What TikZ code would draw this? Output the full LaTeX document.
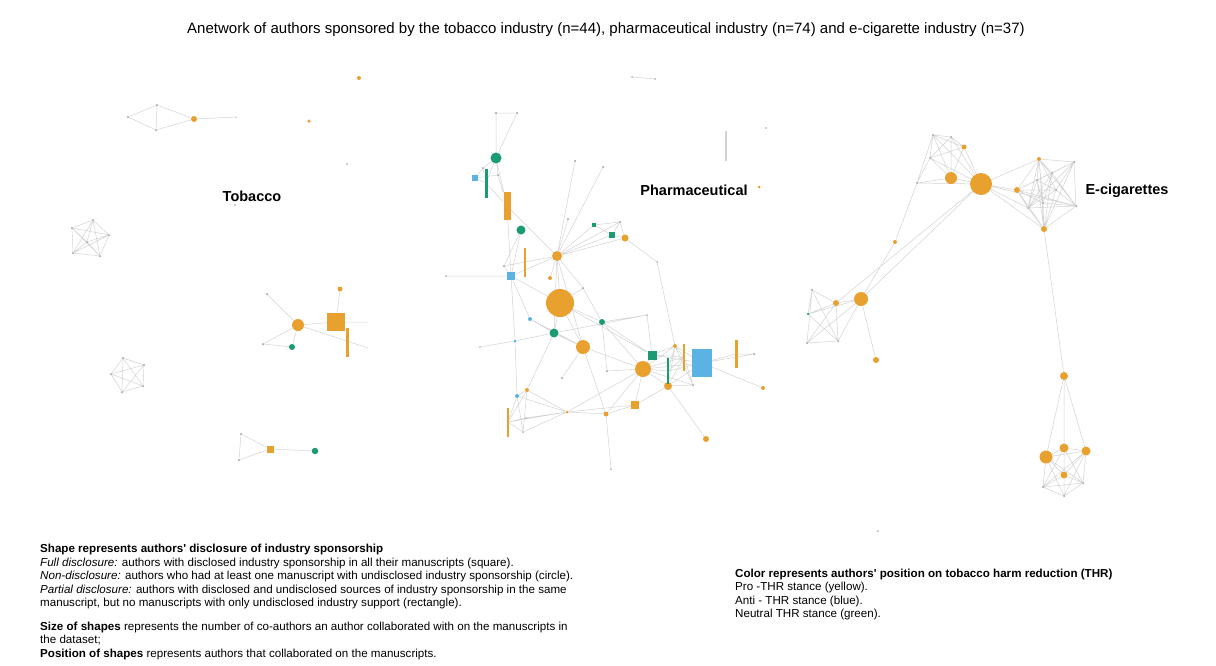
\documentclass[tikz,border=0pt]{standalone}
\usepackage{fontspec}
\setmainfont{Liberation Sans}
\usetikzlibrary{backgrounds}
\definecolor{thryellow}{HTML}{E8A02F}
\definecolor{thrblue}{HTML}{5BB3E4}
\definecolor{thrgreen}{HTML}{1A9B73}
\definecolor{dotgray}{HTML}{B9AE9F}
\definecolor{edgegray}{HTML}{D3D3D3}

\begin{document}
\begin{tikzpicture}[x=1pt, y=-1pt,
  nd/.style={circle, inner sep=0pt, minimum size=#1},
  fd/.style={rectangle, inner sep=0pt, minimum size=#1},
  pd/.style={rectangle, inner sep=0pt, minimum width=2.5pt, minimum height=#1},
  pro/.style={fill=thryellow},
  anti/.style={fill=thrblue},
  neut/.style={fill=thrgreen},
  minor/.style={nd=2.5pt, fill=dotgray},
  link/.style={draw=edgegray, line width=0.5pt},
  group/.style={font=\fontsize{14.5}{16}\selectfont\bfseries},
  legend/.style={anchor=north west, align=left, inner sep=0pt, font=\fontsize{11.6}{13.5}\selectfont}
]
\useasboundingbox (0,0) rectangle (1216,665);

\node[font=\fontsize{15}{17}\selectfont] (title) at (606,30) {Anetwork of authors sponsored by the tobacco industry (n=44), pharmaceutical industry (n=74) and e-cigarette industry (n=37)};

% tobacco
\node[group] (tobacco) at (252,196) {Tobacco};
\node[minor] (ta1) at (128,117) {};
\node[minor] (ta2) at (157,105) {};
\node[minor] (ta3) at (156,130) {};
\node[nd=6pt, pro] (ta4) at (194,119) {};
\node[minor, nd=1.5pt] (ta5) at (236,117) {};
\node[nd=4pt, pro] (t6) at (359,78) {};
\node[nd=3.5pt, pro] (t7) at (309,121) {};
\node[minor, nd=2pt] (t8) at (347,164) {};
\node[minor, nd=2pt] (t9) at (235,205) {};
\node[minor] (tp1) at (72,228) {};
\node[minor] (tp2) at (93,220) {};
\node[minor] (tp3) at (109,235) {};
\node[minor] (tp4) at (100,256) {};
\node[minor] (tp5) at (73,253) {};
\node[minor] (tp6) at (87,242) {};
\node[minor] (tq1) at (123,358) {};
\node[minor] (tq2) at (144,365) {};
\node[minor] (tq3) at (143,386) {};
\node[minor] (tq4) at (122,392) {};
\node[minor] (tq5) at (111,374) {};
\node[minor] (tm1) at (267,294) {};
\node[nd=12pt, pro] (tm2) at (298,325) {};
\node[fd=18pt, pro] (tm3) at (336,322) {};
\node[nd=5pt, pro] (tm4) at (340,289) {};
\node[pd=29pt, minimum width=3pt, pro] (tm5) at (347,342) {};
\node[nd=6pt, neut] (tm6) at (292,347) {};
\node[minor] (tm7) at (263,344) {};
\coordinate (tm8) at (368,322);
\coordinate (tm9) at (368,348);
\node[minor] (tb1) at (241,434) {};
\node[minor] (tb2) at (239,460) {};
\node[fd=7pt, pro] (tb3) at (270,449) {};
\node[nd=6.5pt, neut] (tb4) at (315,451) {};

% pharmaceutical
\node[group] (pharma) at (694,190) {Pharmaceutical};
\node[minor] (pa) at (496,113) {};
\node[minor] (pb) at (517,113) {};
\node[nd=11pt, neut] (pc) at (496,158) {};
\node[minor] (pd) at (483,168) {};
\node[fd=5.5pt, anti] (pe) at (475,178) {};
\node[pd=29pt, minimum width=3pt, neut] (pf) at (486,183) {};
\node[minor] (pg) at (498,175) {};
\node[pd=28pt, minimum width=7pt, pro] (ph) at (507,206) {};
\node[nd=9pt, neut] (pi) at (521,230) {};
\node[minor] (pj) at (575,161) {};
\node[minor] (pk) at (603,167) {};
\node[minor] (pl) at (568,219) {};
\node[fd=3.5pt, neut] (pm) at (594,225) {};
\node[minor] (pn) at (620,222) {};
\node[fd=6.5pt, neut] (po) at (612,235) {};
\node[nd=7pt, pro] (pp) at (625,238) {};
\node[nd=10pt, pro] (pq) at (557,256) {};
\node[pd=29pt, pro] (pr) at (525,262) {};
\node[minor] (ps) at (504,266) {};
\node[fd=8.5pt, anti] (pt) at (511,276) {};
\node[nd=4pt, pro] (pu) at (550,278) {};
\node[minor, nd=2pt] (pv) at (446,276) {};
\node[nd=28pt, pro] (pw) at (560,303) {};
\node[nd=4pt, anti] (px) at (530,319) {};
\node[nd=9pt, neut] (py) at (554,333) {};
\node[nd=6pt, neut] (pz) at (602,322) {};
\node[minor] (qa) at (583,288) {};
\node[nd=3pt, anti] (qb) at (515,341) {};
\node[minor, nd=2pt] (qc) at (480,347) {};
\node[nd=14pt, pro] (qd) at (583,347) {};
\node[minor] (qe) at (562,378) {};
\node[minor] (qf) at (607,371) {};
\node[minor, nd=2pt] (qg) at (647,315) {};
\node[fd=9pt, neut] (qh) at (652,355) {};
\node[nd=16pt, pro] (qi) at (643,369) {};
\node[nd=8pt, pro] (qj) at (668,386) {};
\node[nd=4pt, anti] (qk) at (517,396) {};
\node[nd=4pt, pro] (ql) at (527,390) {};
\node[nd=4pt, pro] (qm) at (675,346) {};
\node[pd=27pt, minimum width=2pt, pro] (qn) at (684,357) {};
\node[pd=26pt, minimum width=2pt, neut] (qo) at (668,371) {};
\node[pd=28pt, minimum width=20pt, anti] (qp) at (702,363) {};
\node[minor] (qq) at (693,385) {};
\node[pd=28pt, minimum width=3pt, pro] (qr) at (736,354) {};
\node[minor] (qs) at (754,354) {};
\node[nd=4pt, pro] (qt) at (763,388) {};
\node[fd=8pt, pro] (qu) at (635,405) {};
\node[nd=5pt, pro] (qv) at (606,414) {};
\node[nd=6pt, pro] (qw) at (706,439) {};
\node[pd=29pt, minimum width=2pt, pro] (qx) at (508,422) {};
\node[minor, nd=2pt] (qy) at (526,418) {};
\node[minor, nd=2pt] (qz) at (523,432) {};
\node[nd=3pt, pro] (ra) at (567,412) {};
\node[minor, nd=2pt] (rb) at (611,469) {};
\node[minor, nd=2pt] (rc) at (657,262) {};
\node[pd=30pt, minimum width=2pt, fill=gray!35] (rd) at (726,146) {};
\node[minor, nd=2pt] (re) at (632,77) {};
\node[minor, nd=2pt] (rf) at (655,79) {};
\node[nd=3pt, pro] (rg) at (759,187) {};
\node[minor, nd=2pt] (rh) at (766,128) {};

% e-cigarettes
\node[group] (ecig) at (1127,191) {E-cigarettes};
\node[minor] (ea) at (933,135) {};
\node[minor] (eb) at (951,137) {};
\node[nd=5pt, pro] (ec) at (964,147) {};
\node[minor] (ed) at (930,158) {};
\node[minor] (ee) at (917,183) {};
\node[nd=12pt, pro] (ef) at (951,178) {};
\node[nd=22pt, pro] (eg) at (981,184) {};
\node[nd=4pt, pro] (eh) at (1039,159) {};
\node[minor] (ei) at (1074,162) {};
\node[nd=6pt, pro] (ej) at (1017,190) {};
\node[minor] (ek) at (1076,206) {};
\node[nd=6pt, pro] (el) at (1044,229) {};
\node[minor] (em) at (1052,173) {};
\node[minor] (en) at (1028,208) {};
\node[minor] (eo) at (1056,190) {};
\node[minor] (ep) at (1037,180) {};
\node[minor] (eq) at (1043,203) {};
\node[nd=4pt, pro] (er) at (895,242) {};
\node[nd=14pt, pro] (es) at (861,299) {};
\node[nd=6pt, pro] (et) at (836,303) {};
\node[minor] (eu) at (812,290) {};
\node[nd=2.5pt, neut] (ev) at (808,314) {};
\node[minor] (ew) at (807,343) {};
\node[minor] (ex) at (838,341) {};
\node[nd=6pt, pro] (ey) at (876,360) {};
\node[nd=8pt, pro] (ez) at (1064,376) {};
\node[nd=13pt, pro] (fa) at (1046,457) {};
\node[nd=9pt, pro] (fb) at (1064,448) {};
\node[nd=9pt, pro] (fc) at (1086,451) {};
\node[nd=7pt, pro] (fd) at (1064,475) {};
\node[minor] (fe) at (1043,487) {};
\node[minor] (ff) at (1064,496) {};
\node[minor] (fg) at (1083,483) {};
\node[minor, nd=2pt] (fh) at (878,531) {};

\begin{scope}[on background layer]
\draw[link] (ta1)--(ta2) (ta1)--(ta3) (ta2)--(ta3) (ta2)--(ta4) (ta3)--(ta4) (ta4)--(ta5)
  (tp1)--(tp2) (tp1)--(tp3) (tp1)--(tp4) (tp1)--(tp5) (tp1)--(tp6) (tp2)--(tp3) (tp2)--(tp4)
  (tp2)--(tp5) (tp2)--(tp6) (tp3)--(tp4) (tp3)--(tp5) (tp3)--(tp6) (tp4)--(tp5) (tp4)--(tp6) (tp5)--(tp6)
  (tq1)--(tq2) (tq1)--(tq3) (tq1)--(tq4) (tq1)--(tq5) (tq2)--(tq3) (tq2)--(tq4) (tq2)--(tq5)
  (tq3)--(tq4) (tq3)--(tq5) (tq4)--(tq5)
  (tm1)--(tm2) (tm2)--(tm3) (tm3)--(tm4) (tm2)--(tm6) (tm7)--(tm2) (tm7)--(tm6) (tm3)--(tm8) (tm2)--(tm9)
  (tb1)--(tb2) (tb1)--(tb3) (tb2)--(tb3) (tb3)--(tb4);
\draw[link] (pa)--(pb) (pa)--(pc) (pb)--(pc) (pc)--(pd) (pc)--(pf) (pc)--(pg) (pd)--(pe) (pd)--(pf)
  (pe)--(pf) (pe)--(pg) (pg)--(ph) (pc)--(ph) (pf)--(ph) (ph)--(pq) (ph)--(pt) (pi)--(pt) (pi)--(ps)
  (pj)--(pq) (pk)--(pq) (pl)--(pq) (pm)--(pq) (pn)--(pq) (po)--(pq) (pp)--(pq) (pm)--(pn) (pm)--(po)
  (pn)--(pp) (po)--(pp) (po)--(pn) (pp)--(rc) (rc)--(qm) (pr)--(pq) (ps)--(pq) (ps)--(pt) (pt)--(pq)
  (pv)--(pt) (pq)--(pw) (pq)--(pu) (pq)--(qa) (pq)--(py) (pq)--(qd) (pt)--(px) (pt)--(pw) (pt)--(qb)
  (pw)--(py) (pw)--(pz) (pw)--(qd) (pw)--(qa) (qa)--(pz) (px)--(py) (px)--(qd) (py)--(qb) (qc)--(qb)
  (py)--(qg) (pz)--(qg) (py)--(qd) (pz)--(qh) (pz)--(qi) (pz)--(qf) (qf)--(qi) (qg)--(qh) (qd)--(qi)
  (qd)--(qe) (qd)--(qv) (pw)--(qh) (qi)--(qh) (qi)--(qm) (qi)--(qn) (qi)--(qo) (qi)--(qj) (qi)--(qp)
  (qi)--(qq) (qh)--(qm) (qh)--(qp) (qh)--(qn) (qm)--(qn) (qm)--(qp) (qm)--(qo) (qm)--(qq) (qn)--(qo)
  (qn)--(qj) (qo)--(qj) (qo)--(qp) (qj)--(qq) (qj)--(qp) (qn)--(qq) (qm)--(qj) (qp)--(qr) (qp)--(qs)
  (qp)--(qt) (qr)--(qs) (qj)--(qw) (qj)--(qu) (qi)--(qu) (qi)--(qv) (qu)--(qv) (qv)--(rb) (qu)--(ra)
  (ra)--(qv) (ra)--(qx) (ra)--(qk) (ra)--(qi) (ql)--(qk) (ql)--(qx) (qk)--(qx) (qy)--(qx) (qz)--(qx)
  (qy)--(ra) (qz)--(ra) (ql)--(ra) (qb)--(qk) (qk)--(qz) (ql)--(qz) (py)--(ql) (re)--(rf);
\draw[link] (ea)--(eb) (ea)--(ec) (ea)--(ed) (ea)--(ee) (ea)--(ef) (ea)--(eg) (eb)--(ec) (eb)--(ed)
  (eb)--(ef) (eb)--(eg) (ec)--(ed) (ec)--(ef) (ec)--(eg) (ed)--(ee) (ed)--(ef) (ed)--(eg) (ee)--(ef)
  (ee)--(eg) (ef)--(eg)
  (eg)--(eh) (eg)--(ej) (eg)--(el) (eg)--(en) (eg)--(ek) (eh)--(ei) (eh)--(ej) (eh)--(ek) (eh)--(el)
  (eh)--(em) (eh)--(en) (eh)--(eo) (eh)--(ep) (eh)--(eq) (ei)--(ej) (ei)--(ek) (ei)--(el) (ei)--(em)
  (ei)--(eo) (ei)--(ep) (ei)--(en) (ej)--(ek) (ej)--(el) (ej)--(em) (ej)--(en) (ej)--(eo) (ej)--(ep)
  (ej)--(eq) (ek)--(el) (ek)--(em) (ek)--(en) (ek)--(eo) (ek)--(eq) (el)--(em) (el)--(en) (el)--(eo)
  (el)--(ep) (el)--(eq) (em)--(en) (em)--(eq) (en)--(eo) (en)--(ep) (eo)--(ep) (ep)--(eq) (em)--(ep)
  (eg)--(es) (eg)--(et) (ee)--(er) (er)--(es) (es)--(ey)
  (eu)--(et) (eu)--(ev) (eu)--(ex) (ev)--(et) (ev)--(ex) (ev)--(es) (ew)--(et) (ew)--(eu) (ew)--(ex)
  (ex)--(es) (et)--(es) (ew)--(es) (ex)--(et)
  (el)--(ez) (ez)--(fa) (ez)--(fb) (ez)--(fc) (ez)--(fd)
  (fa)--(fb) (fa)--(fc) (fa)--(fd) (fa)--(fe) (fa)--(ff) (fa)--(fg) (fb)--(fc) (fb)--(fd) (fb)--(fe)
  (fb)--(ff) (fb)--(fg) (fc)--(fd) (fc)--(fe) (fc)--(ff) (fc)--(fg) (fd)--(fe) (fd)--(ff) (fd)--(fg)
  (fe)--(ff) (fe)--(fg) (ff)--(fg);
\end{scope}

% legends
\node[legend] (shapekey) at (40,544) {\textbf{Shape represents authors\textquotesingle{} disclosure of industry sponsorship}\\
\textit{Full disclosure:} authors with disclosed industry sponsorship in all their manuscripts (square).\\
\textit{Non-disclosure:} authors who had at least one manuscript with undisclosed industry sponsorship (circle).\\
\textit{Partial disclosure:} authors with disclosed and undisclosed sources of industry sponsorship in the same\\
manuscript, but no manuscripts with only undisclosed industry support (rectangle).\\[10pt]
\textbf{Size of shapes} represents the number of co-authors an author collaborated with on the manuscripts in\\
the dataset;\\
\textbf{Position of shapes} represents authors that collaborated on the manuscripts.};
\node[legend] (colorkey) at (735,568.5) {\textbf{Color represents authors\textquotesingle{} position on tobacco harm reduction (THR)}\\
Pro -THR stance (yellow).\\
Anti - THR stance (blue).\\
Neutral THR stance (green).};
\end{tikzpicture}
\end{document}
